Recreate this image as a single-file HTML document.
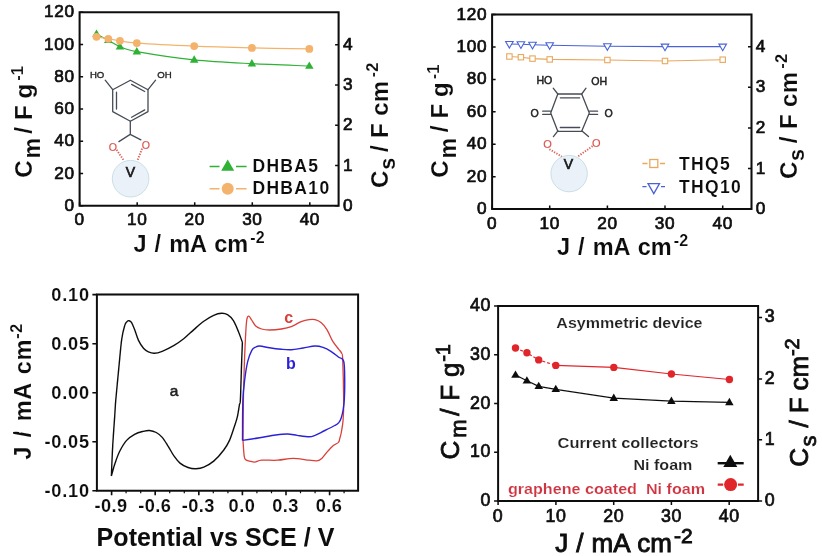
<!DOCTYPE html>
<html lang="en"><head><meta charset="utf-8"><title>Figure</title>
<style>
html,body{margin:0;padding:0;background:#fff;}
body{width:822px;height:556px;overflow:hidden;}
svg{display:block;font-family:'Liberation Sans', Arial, sans-serif;}
</style></head><body>
<svg width="822" height="556" viewBox="0 0 822 556">
<defs><filter id="soft" x="0" y="0" width="822" height="556" filterUnits="userSpaceOnUse"><feGaussianBlur stdDeviation="0.35"/></filter></defs>
<rect width="822" height="556" fill="#fff"/>
<g filter="url(#soft)">
<g id="panelA">
<path d="M79.6 12.3 H338.6 V205.8 H79.6 Z" fill="none" stroke="#0a0a0a" stroke-width="2.0"/>
<text x="74.6" y="210.8" font-size="17.2" text-anchor="end" font-weight="normal" fill="#0a0a0a" stroke="#0a0a0a" stroke-width="0.7" letter-spacing="0.6">0</text>
<text x="74.6" y="178.6" font-size="17.2" text-anchor="end" font-weight="normal" fill="#0a0a0a" stroke="#0a0a0a" stroke-width="0.7" letter-spacing="0.6">20</text>
<text x="74.6" y="146.3" font-size="17.2" text-anchor="end" font-weight="normal" fill="#0a0a0a" stroke="#0a0a0a" stroke-width="0.7" letter-spacing="0.6">40</text>
<text x="74.6" y="114.1" font-size="17.2" text-anchor="end" font-weight="normal" fill="#0a0a0a" stroke="#0a0a0a" stroke-width="0.7" letter-spacing="0.6">60</text>
<text x="74.6" y="81.8" font-size="17.2" text-anchor="end" font-weight="normal" fill="#0a0a0a" stroke="#0a0a0a" stroke-width="0.7" letter-spacing="0.6">80</text>
<text x="74.6" y="49.6" font-size="17.2" text-anchor="end" font-weight="normal" fill="#0a0a0a" stroke="#0a0a0a" stroke-width="0.7" letter-spacing="0.6">100</text>
<text x="74.6" y="17.3" font-size="17.2" text-anchor="end" font-weight="normal" fill="#0a0a0a" stroke="#0a0a0a" stroke-width="0.7" letter-spacing="0.6">120</text>
<text x="79.6" y="225.2" font-size="17.2" text-anchor="middle" font-weight="normal" fill="#0a0a0a" stroke="#0a0a0a" stroke-width="0.7" letter-spacing="0.6">0</text>
<text x="137.2" y="225.2" font-size="17.2" text-anchor="middle" font-weight="normal" fill="#0a0a0a" stroke="#0a0a0a" stroke-width="0.7" letter-spacing="0.6">10</text>
<text x="194.7" y="225.2" font-size="17.2" text-anchor="middle" font-weight="normal" fill="#0a0a0a" stroke="#0a0a0a" stroke-width="0.7" letter-spacing="0.6">20</text>
<text x="252.3" y="225.2" font-size="17.2" text-anchor="middle" font-weight="normal" fill="#0a0a0a" stroke="#0a0a0a" stroke-width="0.7" letter-spacing="0.6">30</text>
<text x="309.8" y="225.2" font-size="17.2" text-anchor="middle" font-weight="normal" fill="#0a0a0a" stroke="#0a0a0a" stroke-width="0.7" letter-spacing="0.6">40</text>
<text x="342.9" y="210.8" font-size="17.2" text-anchor="start" font-weight="normal" fill="#0a0a0a" stroke="#0a0a0a" stroke-width="0.7" >0</text>
<text x="342.9" y="170.6" font-size="17.2" text-anchor="start" font-weight="normal" fill="#0a0a0a" stroke="#0a0a0a" stroke-width="0.7" >1</text>
<text x="342.9" y="130.3" font-size="17.2" text-anchor="start" font-weight="normal" fill="#0a0a0a" stroke="#0a0a0a" stroke-width="0.7" >2</text>
<text x="342.9" y="90.1" font-size="17.2" text-anchor="start" font-weight="normal" fill="#0a0a0a" stroke="#0a0a0a" stroke-width="0.7" >3</text>
<text x="342.9" y="49.8" font-size="17.2" text-anchor="start" font-weight="normal" fill="#0a0a0a" stroke="#0a0a0a" stroke-width="0.7" >4</text>
<path d="M79.6 205.8 h3.5 M79.6 173.6 h3.5 M79.6 141.3 h3.5 M79.6 109.1 h3.5 M79.6 76.8 h3.5 M79.6 44.6 h3.5 M79.6 12.3 h3.5 M79.6 205.8 v-3.5 M137.2 205.8 v-3.5 M194.7 205.8 v-3.5 M252.3 205.8 v-3.5 M309.8 205.8 v-3.5 M338.6 205.8 h-3.5 M338.6 165.6 h-3.5 M338.6 125.3 h-3.5 M338.6 85.1 h-3.5 M338.6 44.8 h-3.5" stroke="#0a0a0a" stroke-width="1.5" fill="none"/>
<text x="133.5" y="251.5" font-size="23.5" font-weight="bold" fill="#0a0a0a" stroke="#fff" stroke-width="0.12" word-spacing="1.5" letter-spacing="0">J / mA cm<tspan font-size="16" dx="2.2" dy="-9">-2</tspan></text>
<text transform="translate(32.2 177.8) rotate(-90)" font-size="24" font-weight="bold" fill="#0a0a0a" stroke="#fff" stroke-width="0.12" word-spacing="0.3" letter-spacing="0">C<tspan font-size="23" dx="2.0" dy="7.5">m</tspan><tspan dx="-2.6" dy="-7.5"> / F g</tspan><tspan font-size="16.5" dx="3.0" dy="-9.5">-1</tspan></text>
<text transform="translate(387.6 187.9) rotate(-90)" font-size="24" font-weight="bold" fill="#0a0a0a" stroke="#fff" stroke-width="0.12" word-spacing="0.3" letter-spacing="0.25">C<tspan font-size="21.5" dx="0.5" dy="7.5">s</tspan><tspan dx="-1.7" dy="-7.5"> / F cm</tspan><tspan font-size="16.5" dx="3.0" dy="-9.5">-2</tspan></text>
<path d="M96.5 34.0 C98.5 35.0 104.4 38.2 108.3 40.3 C112.2 42.4 115.2 44.7 119.9 46.6 C124.7 48.5 124.4 49.4 136.8 51.6 C149.2 53.8 175.0 57.9 194.2 59.9 C213.4 61.9 232.7 62.7 251.9 63.7 C271.1 64.7 299.7 65.6 309.3 66.0" fill="none" stroke="#2eb135" stroke-width="1.2"/>
<path d="M96.5 29.4 L100.8 36.8 L92.2 36.8 Z" fill="#2eb135" stroke="none" stroke-width="0"/>
<path d="M108.3 35.7 L112.5 43.1 L104.0 43.1 Z" fill="#2eb135" stroke="none" stroke-width="0"/>
<path d="M119.9 42.0 L124.2 49.4 L115.7 49.4 Z" fill="#2eb135" stroke="none" stroke-width="0"/>
<path d="M136.8 47.0 L141.1 54.4 L132.6 54.4 Z" fill="#2eb135" stroke="none" stroke-width="0"/>
<path d="M194.2 55.3 L198.4 62.7 L189.9 62.7 Z" fill="#2eb135" stroke="none" stroke-width="0"/>
<path d="M251.9 59.1 L256.1 66.5 L247.7 66.5 Z" fill="#2eb135" stroke="none" stroke-width="0"/>
<path d="M309.3 61.4 L313.6 68.8 L305.1 68.8 Z" fill="#2eb135" stroke="none" stroke-width="0"/>
<path d="M96.5 36.8 C98.5 37.1 104.4 38.1 108.3 38.8 C112.2 39.5 115.2 40.1 119.9 40.8 C124.7 41.5 124.4 42.2 136.8 43.1 C149.2 44.0 175.0 45.3 194.2 46.1 C213.4 46.9 232.7 47.4 251.9 47.9 C271.1 48.4 299.7 48.7 309.3 48.9" fill="none" stroke="#f4b36c" stroke-width="1.2"/>
<circle cx="96.5" cy="36.8" r="3.9" fill="#f4b36c"/>
<circle cx="108.3" cy="38.8" r="3.9" fill="#f4b36c"/>
<circle cx="119.9" cy="40.8" r="3.9" fill="#f4b36c"/>
<circle cx="136.8" cy="43.1" r="3.9" fill="#f4b36c"/>
<circle cx="194.2" cy="46.1" r="3.9" fill="#f4b36c"/>
<circle cx="251.9" cy="47.9" r="3.9" fill="#f4b36c"/>
<circle cx="309.3" cy="48.9" r="3.9" fill="#f4b36c"/>
<path d="M209.6 166.5 H219.5 M236 166.5 H246.6" stroke="#2eb135" stroke-width="1.4"/>
<path d="M227.7 159.5 L234.2 170.8 L221.2 170.8 Z" fill="#2eb135" stroke="none" stroke-width="0"/>
<path d="M209.6 188.7 H219.5 M236 188.7 H246.6" stroke="#f4b36c" stroke-width="1.4"/>
<circle cx="227.7" cy="188.7" r="6" fill="#f4b36c"/>
<text x="252.4" y="171.6" font-size="17.5" font-weight="bold" fill="#0a0a0a" stroke="#fff" stroke-width="0.1" letter-spacing="1.35">DHBA5</text>
<text x="252.4" y="194.2" font-size="17.5" font-weight="bold" fill="#0a0a0a" stroke="#fff" stroke-width="0.1" letter-spacing="1.35">DHBA10</text>
<circle cx="130.6" cy="178.7" r="18.3" fill="#eaf1f9" stroke="#c3dde3" stroke-width="0.9"/>
<g fill="none" stroke="#464c54" stroke-width="1.3" stroke-linecap="round" stroke-linejoin="round">
<path d="M130.4 80.2 L148 89.7 L148 111.6 L130.4 121.2 L112.7 111.6 L112.7 89.7 Z"/>
<path d="M116.5 92.2 V109.1 M131.6 84.4 L144.7 91.5 M144.7 109.9 L131.6 117.2"/>
<path d="M112.7 89.7 L105.2 80.2 M148 89.7 L155.6 80.2 M130.3 121.2 V134.4 M130.2 134.4 L118.9 141.6 M130.2 134.4 L140.9 139.8"/>
</g>
<path d="M116.6 149.8 L123.7 160.3 M142.1 148.6 L137.3 161" stroke="#dd5f59" stroke-width="1.9" stroke-dasharray="1.3 1.4" fill="none"/>
<text x="97.1" y="77.6" font-size="9.6" text-anchor="middle" font-weight="normal" fill="#222" stroke="#222" stroke-width="0.35" >HO</text>
<text x="164.4" y="77.6" font-size="9.6" text-anchor="middle" font-weight="normal" fill="#222" stroke="#222" stroke-width="0.35" >OH</text>
<text x="112.8" y="151.0" font-size="10.6" text-anchor="middle" font-weight="normal" fill="#d9544d" stroke="#d9544d" stroke-width="0.15" >O</text>
<text x="145.9" y="148.7" font-size="10.6" text-anchor="middle" font-weight="normal" fill="#d9544d" stroke="#d9544d" stroke-width="0.15" >O</text>
<text x="130.5" y="176.6" font-size="14" text-anchor="middle" font-weight="normal" fill="#1c1c1c" stroke="#1c1c1c" stroke-width="0.7" >V</text>
</g>
<g id="panelB">
<path d="M492.1 14.6 H751.5 V209.1 H492.1 Z" fill="none" stroke="#0a0a0a" stroke-width="2.0"/>
<text x="487.1" y="214.1" font-size="17.2" text-anchor="end" font-weight="normal" fill="#0a0a0a" stroke="#0a0a0a" stroke-width="0.7" letter-spacing="0.6">0</text>
<text x="487.1" y="181.7" font-size="17.2" text-anchor="end" font-weight="normal" fill="#0a0a0a" stroke="#0a0a0a" stroke-width="0.7" letter-spacing="0.6">20</text>
<text x="487.1" y="149.3" font-size="17.2" text-anchor="end" font-weight="normal" fill="#0a0a0a" stroke="#0a0a0a" stroke-width="0.7" letter-spacing="0.6">40</text>
<text x="487.1" y="116.8" font-size="17.2" text-anchor="end" font-weight="normal" fill="#0a0a0a" stroke="#0a0a0a" stroke-width="0.7" letter-spacing="0.6">60</text>
<text x="487.1" y="84.4" font-size="17.2" text-anchor="end" font-weight="normal" fill="#0a0a0a" stroke="#0a0a0a" stroke-width="0.7" letter-spacing="0.6">80</text>
<text x="487.1" y="52.0" font-size="17.2" text-anchor="end" font-weight="normal" fill="#0a0a0a" stroke="#0a0a0a" stroke-width="0.7" letter-spacing="0.6">100</text>
<text x="487.1" y="19.6" font-size="17.2" text-anchor="end" font-weight="normal" fill="#0a0a0a" stroke="#0a0a0a" stroke-width="0.7" letter-spacing="0.6">120</text>
<text x="492.1" y="228.5" font-size="17.2" text-anchor="middle" font-weight="normal" fill="#0a0a0a" stroke="#0a0a0a" stroke-width="0.7" letter-spacing="0.6">0</text>
<text x="549.7" y="228.5" font-size="17.2" text-anchor="middle" font-weight="normal" fill="#0a0a0a" stroke="#0a0a0a" stroke-width="0.7" letter-spacing="0.6">10</text>
<text x="607.4" y="228.5" font-size="17.2" text-anchor="middle" font-weight="normal" fill="#0a0a0a" stroke="#0a0a0a" stroke-width="0.7" letter-spacing="0.6">20</text>
<text x="665.0" y="228.5" font-size="17.2" text-anchor="middle" font-weight="normal" fill="#0a0a0a" stroke="#0a0a0a" stroke-width="0.7" letter-spacing="0.6">30</text>
<text x="722.7" y="228.5" font-size="17.2" text-anchor="middle" font-weight="normal" fill="#0a0a0a" stroke="#0a0a0a" stroke-width="0.7" letter-spacing="0.6">40</text>
<text x="755.8" y="214.1" font-size="17.2" text-anchor="start" font-weight="normal" fill="#0a0a0a" stroke="#0a0a0a" stroke-width="0.7" >0</text>
<text x="755.8" y="173.5" font-size="17.2" text-anchor="start" font-weight="normal" fill="#0a0a0a" stroke="#0a0a0a" stroke-width="0.7" >1</text>
<text x="755.8" y="132.9" font-size="17.2" text-anchor="start" font-weight="normal" fill="#0a0a0a" stroke="#0a0a0a" stroke-width="0.7" >2</text>
<text x="755.8" y="92.3" font-size="17.2" text-anchor="start" font-weight="normal" fill="#0a0a0a" stroke="#0a0a0a" stroke-width="0.7" >3</text>
<text x="755.8" y="51.7" font-size="17.2" text-anchor="start" font-weight="normal" fill="#0a0a0a" stroke="#0a0a0a" stroke-width="0.7" >4</text>
<path d="M492.1 209.1 h3.5 M492.1 176.7 h3.5 M492.1 144.3 h3.5 M492.1 111.8 h3.5 M492.1 79.4 h3.5 M492.1 47.0 h3.5 M492.1 14.6 h3.5 M492.1 209.1 v-3.5 M549.7 209.1 v-3.5 M607.4 209.1 v-3.5 M665.0 209.1 v-3.5 M722.7 209.1 v-3.5 M751.5 209.1 h-3.5 M751.5 168.5 h-3.5 M751.5 127.9 h-3.5 M751.5 87.3 h-3.5 M751.5 46.7 h-3.5" stroke="#0a0a0a" stroke-width="1.5" fill="none"/>
<text x="557.0" y="254.5" font-size="23.5" font-weight="bold" fill="#0a0a0a" stroke="#fff" stroke-width="0.12" word-spacing="1.5" letter-spacing="0">J / mA cm<tspan font-size="16" dx="2.2" dy="-9">-2</tspan></text>
<text transform="translate(448.4 177.8) rotate(-90)" font-size="24" font-weight="bold" fill="#0a0a0a" stroke="#fff" stroke-width="0.12" word-spacing="0.3" letter-spacing="0">C<tspan font-size="23" dx="2.0" dy="7.5">m</tspan><tspan dx="-1.2" dy="-7.5"> / F g</tspan><tspan font-size="16.5" dx="3.0" dy="-9.5">-1</tspan></text>
<text transform="translate(796.5 179.0) rotate(-90)" font-size="24" font-weight="bold" fill="#0a0a0a" stroke="#fff" stroke-width="0.12" word-spacing="0.3" letter-spacing="0.25">C<tspan font-size="21.5" dx="0.5" dy="7.5">s</tspan><tspan dx="-1.7" dy="-7.5"> / F cm</tspan><tspan font-size="16.5" dx="3.0" dy="-9.5">-2</tspan></text>
<path d="M509.4 56.5 L520.9 57.2 L532.5 58.6 L549.7 59.4 L607.4 60.0 L665.0 61.0 L722.7 59.7" fill="none" stroke="#e9a85e" stroke-width="1.1"/>
<rect x="506.7" y="53.8" width="5.4" height="5.4" fill="#fff" stroke="#e9a85e" stroke-width="1.1"/>
<rect x="518.2" y="54.5" width="5.4" height="5.4" fill="#fff" stroke="#e9a85e" stroke-width="1.1"/>
<rect x="529.8" y="55.9" width="5.4" height="5.4" fill="#fff" stroke="#e9a85e" stroke-width="1.1"/>
<rect x="547.0" y="56.7" width="5.4" height="5.4" fill="#fff" stroke="#e9a85e" stroke-width="1.1"/>
<rect x="604.7" y="57.3" width="5.4" height="5.4" fill="#fff" stroke="#e9a85e" stroke-width="1.1"/>
<rect x="662.3" y="58.3" width="5.4" height="5.4" fill="#fff" stroke="#e9a85e" stroke-width="1.1"/>
<rect x="720.0" y="57.0" width="5.4" height="5.4" fill="#fff" stroke="#e9a85e" stroke-width="1.1"/>
<path d="M509.4 44.0 L520.9 44.3 L532.5 44.8 L549.7 45.2 L607.4 46.2 L665.0 46.6 L722.7 46.6" fill="none" stroke="#4a63d6" stroke-width="1.1"/>
<path d="M509.4 48.1 L513.2 41.5 L505.6 41.5 Z" fill="#fff" stroke="#4a63d6" stroke-width="1.1"/>
<path d="M520.9 48.4 L524.7 41.8 L517.1 41.8 Z" fill="#fff" stroke="#4a63d6" stroke-width="1.1"/>
<path d="M532.5 48.9 L536.3 42.3 L528.7 42.3 Z" fill="#fff" stroke="#4a63d6" stroke-width="1.1"/>
<path d="M549.7 49.3 L553.5 42.7 L545.9 42.7 Z" fill="#fff" stroke="#4a63d6" stroke-width="1.1"/>
<path d="M607.4 50.3 L611.2 43.7 L603.6 43.7 Z" fill="#fff" stroke="#4a63d6" stroke-width="1.1"/>
<path d="M665.0 50.7 L668.8 44.1 L661.2 44.1 Z" fill="#fff" stroke="#4a63d6" stroke-width="1.1"/>
<path d="M722.7 50.7 L726.5 44.1 L718.9 44.1 Z" fill="#fff" stroke="#4a63d6" stroke-width="1.1"/>
<path d="M642.4 163.5 H647.5 M660 163.5 H665" stroke="#e9a85e" stroke-width="1.4"/>
<rect x="649.8" y="159.5" width="8" height="8" fill="#fff" stroke="#e9a85e" stroke-width="1.3"/>
<path d="M642.4 186.6 H646.5 M661 186.6 H665" stroke="#4a63d6" stroke-width="1.4"/>
<path d="M653.8 193.6 L659.5 183.6 L648.0 183.6 Z" fill="#fff" stroke="#4a63d6" stroke-width="1.3"/>
<text x="679" y="170.3" font-size="17.5" font-weight="bold" fill="#0a0a0a" stroke="#fff" stroke-width="0.1" letter-spacing="1.35">THQ5</text>
<text x="679" y="193" font-size="17.5" font-weight="bold" fill="#0a0a0a" stroke="#fff" stroke-width="0.1" letter-spacing="1.35">THQ10</text>
<circle cx="569.1" cy="173.6" r="18.2" fill="#eaf1f9" stroke="#c3dde3" stroke-width="0.9"/>
<g fill="none" stroke="#464c54" stroke-width="1.3" stroke-linecap="round" stroke-linejoin="round">
<path d="M557.8 94 L581.7 94 L589.3 112.9 L581.7 131.3 L557.8 131.3 L550.7 112.9 Z"/>
<path d="M560.3 97.8 H579.7 M560.3 127.5 H579.7"/>
<path d="M557.8 94 L553.2 88.2 M581.7 94 L586 88.2 M550.7 111.2 H542.7 M550.7 114.4 H542.7 M589.3 111.2 H597.6 M589.3 114.4 H597.6 M557.9 130.9 L553.4 136.6 M582 130.9 L588.5 136.6"/>
</g>
<path d="M549.4 149.2 L561.7 156.5 M592.6 146.1 L577.1 157" stroke="#dd5f59" stroke-width="1.9" stroke-dasharray="1.3 1.4" fill="none"/>
<text x="544.4" y="84.2" font-size="10.6" text-anchor="middle" font-weight="normal" fill="#222" stroke="#222" stroke-width="0.45" >HO</text>
<text x="599.3" y="84.6" font-size="10.6" text-anchor="middle" font-weight="normal" fill="#222" stroke="#222" stroke-width="0.45" >OH</text>
<text x="534.6" y="116.7" font-size="10.6" text-anchor="middle" font-weight="normal" fill="#222" stroke="#222" stroke-width="0.45" >O</text>
<text x="608.7" y="116.7" font-size="10.6" text-anchor="middle" font-weight="normal" fill="#222" stroke="#222" stroke-width="0.45" >O</text>
<text x="547.6" y="147.7" font-size="11" text-anchor="middle" font-weight="normal" fill="#d9544d" stroke="#d9544d" stroke-width="0.15" >O</text>
<text x="596.2" y="147.1" font-size="11" text-anchor="middle" font-weight="normal" fill="#d9544d" stroke="#d9544d" stroke-width="0.15" >O</text>
<text x="568.5" y="168.8" font-size="14" text-anchor="middle" font-weight="normal" fill="#1c1c1c" stroke="#1c1c1c" stroke-width="0.7" >V</text>
</g>
<g id="panelC">
<path d="M96.9 294.6 H358.1 V490.8 H96.9 Z" fill="none" stroke="#0a0a0a" stroke-width="2.0"/>
<text x="89.9" y="497.0" font-size="18.2" text-anchor="end" font-weight="bold" fill="#0a0a0a" letter-spacing="0.8" stroke="#fff" stroke-width="0.12">-0.10</text>
<text x="89.9" y="447.9" font-size="18.2" text-anchor="end" font-weight="bold" fill="#0a0a0a" letter-spacing="0.8" stroke="#fff" stroke-width="0.12">-0.05</text>
<text x="89.9" y="398.9" font-size="18.2" text-anchor="end" font-weight="bold" fill="#0a0a0a" letter-spacing="0.8" stroke="#fff" stroke-width="0.12">0.00</text>
<text x="89.9" y="349.9" font-size="18.2" text-anchor="end" font-weight="bold" fill="#0a0a0a" letter-spacing="0.8" stroke="#fff" stroke-width="0.12">0.05</text>
<text x="89.9" y="300.8" font-size="18.2" text-anchor="end" font-weight="bold" fill="#0a0a0a" letter-spacing="0.8" stroke="#fff" stroke-width="0.12">0.10</text>
<text x="111.1" y="511.6" font-size="18.2" text-anchor="middle" font-weight="bold" fill="#0a0a0a" letter-spacing="0.45" stroke="#fff" stroke-width="0.12">-0.9</text>
<text x="154.7" y="511.6" font-size="18.2" text-anchor="middle" font-weight="bold" fill="#0a0a0a" letter-spacing="0.45" stroke="#fff" stroke-width="0.12">-0.6</text>
<text x="198.3" y="511.6" font-size="18.2" text-anchor="middle" font-weight="bold" fill="#0a0a0a" letter-spacing="0.45" stroke="#fff" stroke-width="0.12">-0.3</text>
<text x="241.9" y="511.6" font-size="18.2" text-anchor="middle" font-weight="bold" fill="#0a0a0a" letter-spacing="0.45" stroke="#fff" stroke-width="0.12">0.0</text>
<text x="285.5" y="511.6" font-size="18.2" text-anchor="middle" font-weight="bold" fill="#0a0a0a" letter-spacing="0.45" stroke="#fff" stroke-width="0.12">0.3</text>
<text x="329.1" y="511.6" font-size="18.2" text-anchor="middle" font-weight="bold" fill="#0a0a0a" letter-spacing="0.45" stroke="#fff" stroke-width="0.12">0.6</text>
<path d="M96.9 490.8 h-4.5 M96.9 441.8 h-4.5 M96.9 392.7 h-4.5 M96.9 343.7 h-4.5 M96.9 294.6 h-4.5 M111.6 490.8 v4.5 M155.2 490.8 v4.5 M198.8 490.8 v4.5 M242.4 490.8 v4.5 M286.0 490.8 v4.5 M329.6 490.8 v4.5" stroke="#0a0a0a" stroke-width="1.6" fill="none"/>
<path d="M126.1 490.8 v2.5 M140.7 490.8 v2.5 M169.7 490.8 v2.5 M184.3 490.8 v2.5 M213.3 490.8 v2.5 M227.9 490.8 v2.5 M256.9 490.8 v2.5 M271.5 490.8 v2.5 M300.5 490.8 v2.5 M315.1 490.8 v2.5 M344.1 490.8 v2.5" stroke="#0a0a0a" stroke-width="1.2" fill="none"/>
<text x="96.5" y="545.5" font-size="25" font-weight="bold" fill="#0a0a0a" textLength="238" lengthAdjust="spacing">Potential vs SCE / V</text>
<text transform="translate(30.6 391.5) rotate(-90)" font-size="23.5" font-weight="bold" text-anchor="middle" fill="#0a0a0a" stroke="#fff" stroke-width="0.12" word-spacing="1.5" letter-spacing="0.7">J / mA cm<tspan font-size="16" dy="-8.5">-2</tspan></text>
<path d="M111.4 476.0 C111.6 470.7 112.2 454.5 112.8 444.3 C113.4 434.1 114.3 422.1 114.8 414.7 C115.3 407.3 115.1 407.4 115.8 399.8 C116.5 392.2 117.7 379.2 118.7 369.1 C119.7 359.0 120.7 346.6 121.7 339.4 C122.7 332.1 123.8 328.6 124.7 325.6 C125.6 322.6 126.3 322.4 127.0 321.6 C127.7 320.8 128.2 320.5 129.0 320.7 C129.8 320.9 130.7 321.1 131.6 322.6 C132.5 324.1 133.4 326.6 134.6 329.6 C135.8 332.6 137.0 337.3 138.5 340.4 C140.0 343.5 141.8 346.4 143.5 348.3 C145.2 350.2 146.6 351.1 148.4 351.9 C150.2 352.7 152.0 353.4 154.3 353.3 C156.6 353.2 158.9 352.6 162.2 351.3 C165.5 350.0 170.5 347.5 174.1 345.4 C177.7 343.3 180.7 341.1 184.0 338.5 C187.3 335.9 190.6 332.5 193.9 329.6 C197.2 326.7 200.5 323.6 203.8 321.2 C207.1 318.8 210.7 316.6 213.7 315.3 C216.7 314.0 219.3 313.4 221.6 313.3 C223.9 313.2 225.5 313.5 227.5 314.7 C229.5 315.9 231.6 317.9 233.4 320.7 C235.2 323.5 236.9 327.9 238.4 331.5 C239.9 335.1 241.7 340.6 242.4 342.4 M242.4 342.4 C242.2 346.8 241.7 359.5 241.4 369.1 C241.1 378.7 240.7 393.8 240.4 399.8 C240.1 405.8 239.9 402.1 239.4 404.9 C238.9 407.7 238.2 413.1 237.4 416.7 C236.6 420.3 235.7 422.6 234.4 426.5 C233.1 430.4 231.3 436.4 229.5 440.4 C227.7 444.4 226.2 446.9 223.6 450.3 C221.0 453.8 217.0 458.3 213.7 461.1 C210.4 463.9 206.8 465.8 203.8 467.1 C200.8 468.4 198.5 468.6 195.9 468.7 C193.3 468.8 190.7 468.4 188.0 467.5 C185.3 466.6 182.3 465.0 180.0 463.1 C177.7 461.2 176.1 459.0 174.1 456.2 C172.1 453.4 170.2 449.4 168.2 446.3 C166.2 443.2 164.2 439.7 162.2 437.4 C160.2 435.1 158.4 433.6 156.3 432.5 C154.2 431.4 151.7 430.7 149.4 430.5 C147.1 430.3 145.0 430.9 142.5 431.5 C140.0 432.1 137.2 432.9 134.6 434.4 C131.9 435.9 129.1 437.6 126.6 440.4 C124.1 443.2 121.7 447.4 119.7 451.3 C117.7 455.2 116.2 460.0 114.8 464.1 C113.4 468.2 112.0 474.0 111.4 476.0" fill="none" stroke="#111" stroke-width="1.4" stroke-linejoin="round"/>
<path d="M243.0 440.4 C243.1 433.6 243.2 411.7 243.4 399.8 C243.6 387.9 243.9 379.2 244.2 369.1 C244.5 359.0 245.0 347.6 245.4 339.4 C245.8 331.2 246.2 323.6 246.8 319.7 C247.4 315.8 248.0 316.1 248.8 316.1 C249.6 316.1 250.2 318.1 251.4 319.7 C252.6 321.3 254.0 324.4 255.7 326.0 C257.4 327.6 259.3 328.3 261.6 329.0 C263.9 329.7 266.3 330.0 269.6 330.0 C272.9 330.0 277.8 329.6 281.4 329.0 C285.0 328.4 288.0 327.8 291.3 326.6 C294.6 325.4 298.2 322.8 301.2 321.6 C304.2 320.5 306.8 320.0 309.1 319.7 C311.4 319.4 313.0 319.2 315.0 319.7 C317.0 320.2 319.0 321.0 321.0 322.6 C323.0 324.2 324.9 326.5 326.9 329.6 C328.9 332.7 330.8 338.1 332.8 341.4 C334.8 344.7 337.3 347.3 338.8 349.3 C340.3 351.3 341.1 351.7 341.7 353.3 C342.3 354.9 342.4 351.4 342.7 359.2 C343.0 366.9 343.6 389.7 343.7 399.8 C343.8 409.9 343.5 414.6 343.1 420.0 C342.7 425.4 341.9 428.9 341.4 432.0 C340.8 435.1 340.3 436.7 339.8 438.4 C339.3 440.1 339.6 441.1 338.4 442.4 C337.2 443.6 334.7 444.3 332.8 445.9 C330.9 447.5 328.7 450.1 326.9 452.2 C325.1 454.2 323.6 456.8 322.0 458.2 C320.4 459.6 319.1 460.5 317.0 460.8 C314.9 461.1 312.4 460.6 309.1 460.2 C305.8 459.8 300.5 458.9 297.2 458.6 C293.9 458.3 292.6 458.3 289.3 458.6 C286.0 458.9 282.1 459.9 277.5 460.2 C272.9 460.5 265.4 459.9 261.6 460.2 C257.8 460.5 256.7 462.0 254.7 462.1 C252.7 462.2 251.3 461.5 249.8 461.1 C248.3 460.7 246.7 460.6 245.8 459.8 C244.9 459.0 244.7 459.4 244.2 456.2 C243.7 453.0 243.2 443.0 243.0 440.4" fill="none" stroke="#d9403a" stroke-width="1.3" stroke-linejoin="round"/>
<path d="M242.5 440.4 C242.6 433.6 242.5 410.0 242.9 399.8 C243.3 389.6 244.0 385.4 244.8 379.0 C245.6 372.6 246.6 366.0 247.8 361.2 C249.0 356.4 250.5 352.7 251.8 350.3 C253.1 347.9 254.4 347.7 255.7 347.0 C257.0 346.3 257.4 345.9 259.7 346.0 C262.0 346.1 266.0 347.2 269.6 347.8 C273.2 348.4 277.8 349.0 281.4 349.3 C285.0 349.6 287.7 349.9 291.3 349.7 C294.9 349.5 299.2 348.6 303.2 348.0 C307.1 347.4 311.7 346.1 315.0 346.0 C318.3 345.9 320.4 346.5 323.0 347.4 C325.6 348.3 328.3 349.7 330.9 351.3 C333.5 352.9 336.7 355.6 338.8 357.2 C340.9 358.8 342.7 357.6 343.7 361.2 C344.7 364.8 344.6 372.6 344.7 379.0 C344.8 385.4 344.6 394.6 344.3 399.8 C344.0 405.0 343.6 407.0 343.1 410.0 C342.6 413.0 341.9 415.9 341.2 418.0 C340.5 420.1 339.9 421.4 338.8 422.6 C337.7 423.9 337.1 424.2 334.8 425.5 C332.5 426.8 328.2 428.9 324.9 430.5 C321.6 432.1 317.6 434.3 315.0 435.4 C312.4 436.4 312.1 436.8 309.1 436.8 C306.1 436.8 300.8 435.9 297.2 435.4 C293.6 434.9 291.0 434.1 287.4 434.0 C283.8 433.9 280.1 434.4 275.5 435.0 C270.9 435.6 265.2 436.9 259.7 437.8 C254.2 438.7 245.4 440.0 242.5 440.4" fill="none" stroke="#2a22d8" stroke-width="1.4" stroke-linejoin="round"/>
<text x="174.1" y="396.0" font-size="15.5" text-anchor="middle" font-weight="normal" fill="#222" stroke="#222" stroke-width="0.55" >a</text>
<text x="288.7" y="323.0" font-size="16" text-anchor="middle" font-weight="bold" fill="#d9403a" >c</text>
<text x="290.9" y="369.0" font-size="16" text-anchor="middle" font-weight="bold" fill="#2a22d8" >b</text>
</g>
<g id="panelD">
<path d="M498.1 306.1 H758.1 V501.0 H498.1 Z" fill="none" stroke="#0a0a0a" stroke-width="2.0"/>
<text x="491.1" y="506.0" font-size="17.8" text-anchor="end" font-weight="normal" fill="#0a0a0a" stroke="#0a0a0a" stroke-width="0.7" letter-spacing="0.6">0</text>
<text x="491.1" y="457.3" font-size="17.8" text-anchor="end" font-weight="normal" fill="#0a0a0a" stroke="#0a0a0a" stroke-width="0.7" letter-spacing="0.6">10</text>
<text x="491.1" y="408.6" font-size="17.8" text-anchor="end" font-weight="normal" fill="#0a0a0a" stroke="#0a0a0a" stroke-width="0.7" letter-spacing="0.6">20</text>
<text x="491.1" y="359.8" font-size="17.8" text-anchor="end" font-weight="normal" fill="#0a0a0a" stroke="#0a0a0a" stroke-width="0.7" letter-spacing="0.6">30</text>
<text x="491.1" y="311.1" font-size="17.8" text-anchor="end" font-weight="normal" fill="#0a0a0a" stroke="#0a0a0a" stroke-width="0.7" letter-spacing="0.6">40</text>
<text x="498.1" y="522.0" font-size="17.8" text-anchor="middle" font-weight="normal" fill="#0a0a0a" stroke="#0a0a0a" stroke-width="0.7" letter-spacing="0.6">0</text>
<text x="555.9" y="522.0" font-size="17.8" text-anchor="middle" font-weight="normal" fill="#0a0a0a" stroke="#0a0a0a" stroke-width="0.7" letter-spacing="0.6">10</text>
<text x="613.7" y="522.0" font-size="17.8" text-anchor="middle" font-weight="normal" fill="#0a0a0a" stroke="#0a0a0a" stroke-width="0.7" letter-spacing="0.6">20</text>
<text x="671.4" y="522.0" font-size="17.8" text-anchor="middle" font-weight="normal" fill="#0a0a0a" stroke="#0a0a0a" stroke-width="0.7" letter-spacing="0.6">30</text>
<text x="729.2" y="522.0" font-size="17.8" text-anchor="middle" font-weight="normal" fill="#0a0a0a" stroke="#0a0a0a" stroke-width="0.7" letter-spacing="0.6">40</text>
<text x="764.7" y="505.8" font-size="17.8" text-anchor="start" font-weight="normal" fill="#0a0a0a" stroke="#0a0a0a" stroke-width="0.7" >0</text>
<text x="764.7" y="444.6" font-size="17.8" text-anchor="start" font-weight="normal" fill="#0a0a0a" stroke="#0a0a0a" stroke-width="0.7" >1</text>
<text x="764.7" y="383.7" font-size="17.8" text-anchor="start" font-weight="normal" fill="#0a0a0a" stroke="#0a0a0a" stroke-width="0.7" >2</text>
<text x="764.7" y="322.3" font-size="17.8" text-anchor="start" font-weight="normal" fill="#0a0a0a" stroke="#0a0a0a" stroke-width="0.7" >3</text>
<path d="M498.1 501.0 h-4 M498.1 452.3 h-4 M498.1 403.6 h-4 M498.1 354.8 h-4 M498.1 306.1 h-4 M498.1 501.0 v4 M555.9 501.0 v4 M613.7 501.0 v4 M671.4 501.0 v4 M729.2 501.0 v4 M758.1 501.0 h4 M758.1 439.8 h4 M758.1 378.9 h4 M758.1 317.5 h4" stroke="#0a0a0a" stroke-width="1.5" fill="none"/>
<text x="555.3" y="551.5" font-size="26" fill="#0a0a0a" stroke="#0a0a0a" stroke-width="0.9" word-spacing="0.8" letter-spacing="0">J / mA cm<tspan font-size="21" dx="2.2" dy="-8.8">-2</tspan></text>
<text transform="translate(458.9 459.5) rotate(-90)" font-size="26" fill="#0a0a0a" stroke="#0a0a0a" stroke-width="0.8" word-spacing="0.5" letter-spacing="0">C<tspan font-size="22" dx="3.0" dy="7.5">m</tspan><tspan dx="-4.0" dy="-7.5"> / F g</tspan><tspan font-size="20" dx="0.8" dy="-9">-1</tspan></text>
<text transform="translate(808.3 466.7) rotate(-90)" font-size="26" fill="#0a0a0a" stroke="#0a0a0a" stroke-width="0.8" word-spacing="-0.3" letter-spacing="0">C<tspan font-size="22" dx="1.5" dy="7.5">s</tspan><tspan dx="1.1" dy="-7.5"> / F cm</tspan><tspan font-size="20" dx="-0.3" dy="-9">-2</tspan></text>
<path d="M515.5 375.0 L526.9 380.8 L538.7 386.3 L555.8 389.3 L613.8 398.1 L671.4 401.2 L729.4 402.4" fill="none" stroke="#111" stroke-width="1.2"/>
<path d="M515.5 370.4 L519.8 377.8 L511.2 377.8 Z" fill="#111" stroke="none" stroke-width="0"/>
<path d="M526.9 376.2 L531.1 383.6 L522.6 383.6 Z" fill="#111" stroke="none" stroke-width="0"/>
<path d="M538.7 381.7 L543.0 389.1 L534.5 389.1 Z" fill="#111" stroke="none" stroke-width="0"/>
<path d="M555.8 384.7 L560.0 392.1 L551.5 392.1 Z" fill="#111" stroke="none" stroke-width="0"/>
<path d="M613.8 393.5 L618.0 400.9 L609.5 400.9 Z" fill="#111" stroke="none" stroke-width="0"/>
<path d="M671.4 396.6 L675.6 404.0 L667.1 404.0 Z" fill="#111" stroke="none" stroke-width="0"/>
<path d="M729.4 397.8 L733.6 405.2 L725.1 405.2 Z" fill="#111" stroke="none" stroke-width="0"/>
<path d="M555.8 365.4 L613.8 367.4 L671.4 374.0 L729.4 379.5" fill="none" stroke="#e0262c" stroke-width="1.2"/>
<path d="M515.5 348.0 L526.9 352.8 L538.7 359.9 L555.8 365.4" fill="none" stroke="#e0262c" stroke-width="1.2" stroke-dasharray="3 2"/>
<circle cx="515.5" cy="348.0" r="3.7" fill="#e0262c"/>
<circle cx="526.9" cy="352.8" r="3.7" fill="#e0262c"/>
<circle cx="538.7" cy="359.9" r="3.7" fill="#e0262c"/>
<circle cx="555.8" cy="365.4" r="3.7" fill="#e0262c"/>
<circle cx="613.8" cy="367.4" r="3.7" fill="#e0262c"/>
<circle cx="671.4" cy="374.0" r="3.7" fill="#e0262c"/>
<circle cx="729.4" cy="379.5" r="3.7" fill="#e0262c"/>
<text x="556.3" y="327.8" font-size="15.3" font-weight="bold" fill="#222" stroke="#fff" stroke-width="0.15" textLength="146.2" lengthAdjust="spacingAndGlyphs">Asymmetric device</text>
<text x="557.6" y="447.8" font-size="15" font-weight="bold" fill="#222" stroke="#fff" stroke-width="0.15" textLength="141" lengthAdjust="spacingAndGlyphs">Current collectors</text>
<text x="633.5" y="469.9" font-size="15" font-weight="bold" fill="#222" stroke="#fff" stroke-width="0.15" textLength="58.9" lengthAdjust="spacingAndGlyphs">Ni foam</text>
<text x="507.9" y="494" font-size="15" font-weight="bold" fill="#cf3541" stroke="#fff" stroke-width="0.15" textLength="197.2" lengthAdjust="spacingAndGlyphs" xml:space="preserve">graphene coated  Ni foam</text>
<path d="M717.7 463.2 H743.7" stroke="#111" stroke-width="2.4"/>
<path d="M730.3 454.8 L737.3 466.9 L723.3 466.9 Z" fill="#111" stroke="none" stroke-width="0"/>
<path d="M717.7 484.6 H723.2 M738 484.6 H743.7" stroke="#e0262c" stroke-width="2.4"/>
<circle cx="730.6" cy="484.6" r="6.5" fill="#e0262c"/>
</g>
</g>
</svg>
</body></html>
